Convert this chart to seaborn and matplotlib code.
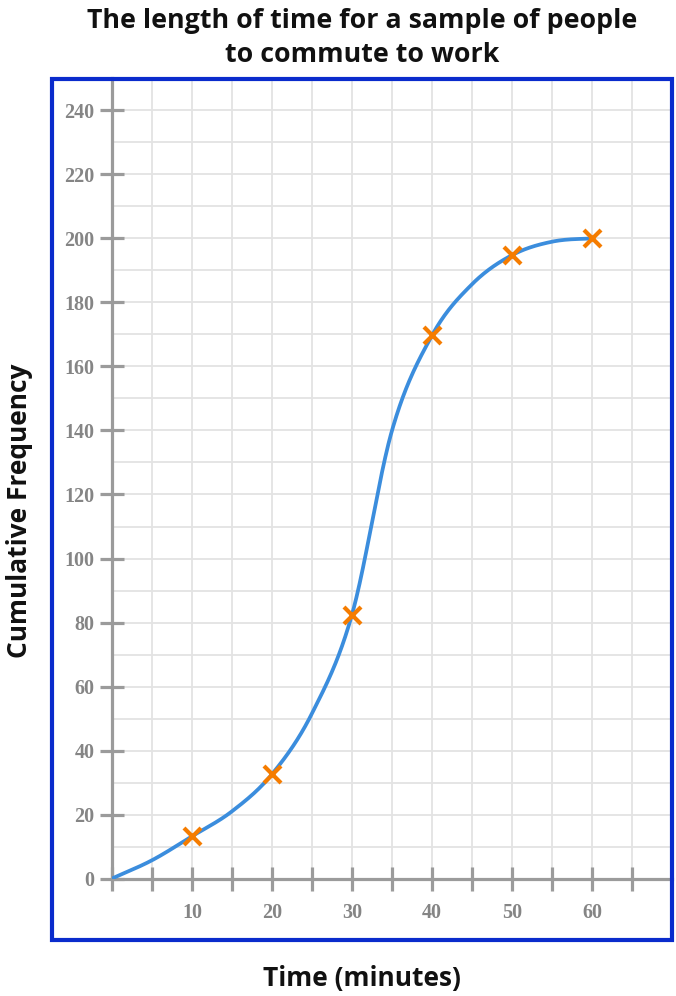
import numpy as np
import pandas as pd
import matplotlib
matplotlib.use("Agg")
import matplotlib.pyplot as plt
import matplotlib.patches as mpatches
from matplotlib.ticker import MultipleLocator, FixedLocator, FixedFormatter
import seaborn as sns

# ---- data ----
# plotted (marked) points
marked_time = [10, 20, 30, 40, 50, 60]
marked_freq = [13.2, 32.6, 82.5, 169.7, 194.8, 200]
# curve
curve_time = [0, 5, 10, 15, 20, 25, 30, 35, 40, 45, 50, 55, 60]
curve_freq = [0, 5.7, 13.2, 21, 32.6, 51.6, 82.5, 140, 169.7,
              185.7, 194.8, 199, 200]
x_tick_labels = ["10", "20", "30", "40", "50", "60"]
y_tick_values = [0, 20, 40, 60, 80, 100, 120, 140, 160, 180, 200, 220, 240]

title = "The length of time for a sample of people\nto commute to work"
xlabel = "Time (minutes)"
ylabel = "Cumulative Frequency"


def catmull_rom(xs, ys, n=600):
    """Cubic Hermite (Catmull-Rom tangents) rendering of the smooth curve."""
    xs = np.asarray(xs, float)
    ys = np.asarray(ys, float)
    k = len(xs)
    h = np.diff(xs)
    m = np.zeros(k)
    m[0] = (ys[1] - ys[0]) / h[0]
    m[-1] = 0.5 * (ys[-1] - ys[-2]) / h[-1]
    for i in range(1, k - 1):
        m[i] = (ys[i + 1] - ys[i - 1]) / (xs[i + 1] - xs[i - 1])
    xx = np.linspace(xs[0], xs[-1], n)
    idx = np.clip(np.searchsorted(xs, xx, side="right") - 1, 0, k - 2)
    t = (xx - xs[idx]) / h[idx]
    h00 = 2 * t**3 - 3 * t**2 + 1
    h10 = t**3 - 2 * t**2 + t
    h01 = -2 * t**3 + 3 * t**2
    h11 = t**3 - t**2
    yy = (h00 * ys[idx] + h10 * h[idx] * m[idx]
          + h01 * ys[idx + 1] + h11 * h[idx] * m[idx + 1])
    return xx, yy


sns.set_style("white")

W, H = 676, 996
fig = plt.figure(figsize=(W / 100, H / 100), dpi=100)

# axes placement in pixels
ax_left, ax_right, ax_top, ax_bottom = 112, 672, 78.5, 878.5
ax = fig.add_axes([ax_left / W, (H - ax_bottom) / H,
                   (ax_right - ax_left) / W, (ax_bottom - ax_top) / H])

xmax = (ax_right - ax_left) / 8.0
ymax = (ax_bottom - ax_top) / 3.2
ax.set_xlim(0, xmax)
ax.set_ylim(0, ymax)

grid_col = "#e3e3e3"
axis_col = "#9b9b9b"

# gridlines
ax.xaxis.set_minor_locator(MultipleLocator(5))
ax.yaxis.set_minor_locator(MultipleLocator(10))
ax.grid(which="both", color=grid_col, linewidth=1.3, zorder=0)
ax.set_axisbelow(True)

# curve
cx, cy = catmull_rom(curve_time, curve_freq)
curve_df = pd.DataFrame({"t": cx, "f": cy})
sns.lineplot(data=curve_df, x="t", y="f", ax=ax, color="#3b8ddd",
             linewidth=2.7, zorder=3, sort=False)

pts = pd.DataFrame({"t": marked_time, "f": marked_freq})
sns.scatterplot(data=pts, x="t", y="f", ax=ax, marker="x", s=150,
                linewidth=3.0, color="#f57c00", zorder=4)

# spines
for s in ["top", "right"]:
    ax.spines[s].set_visible(False)
for s in ["left", "bottom"]:
    ax.spines[s].set_color(axis_col)
    ax.spines[s].set_linewidth(2.3)
    ax.spines[s].set_zorder(2)

# ticks
xt = list(range(0, 70, 5))
xlabels = [str(v) if str(v) in x_tick_labels else "" for v in xt]
ax.xaxis.set_major_locator(FixedLocator(xt))
ax.xaxis.set_major_formatter(FixedFormatter(xlabels))
ax.yaxis.set_major_locator(FixedLocator(y_tick_values))
ax.yaxis.set_major_formatter(FixedFormatter([str(v) for v in y_tick_values]))
ax.tick_params(axis="both", which="major", direction="inout", length=17,
               width=2.3, color=axis_col, labelcolor="#858585",
               labelsize=14.5, bottom=True, left=True)
ax.tick_params(axis="y", which="major", pad=4)
ax.tick_params(axis="x", which="major", pad=9)
ax.tick_params(which="minor", length=0)
for lab in ax.get_xticklabels() + ax.get_yticklabels():
    lab.set_fontfamily(["Liberation Serif", "DejaVu Serif"])
    lab.set_fontweight("bold")

ax.set_xlabel("")
ax.set_ylabel("")

# labels and title (figure text)
fig.text(362 / W, 1 - 978 / H, xlabel, ha="center", va="center",
         fontsize=19, fontweight="bold", color="#111111",
         family=["Open Sans", "DejaVu Sans"])
fig.text(20 / W, 1 - 511 / H, ylabel, ha="center", va="center", rotation=90,
         fontsize=19, fontweight="bold", color="#111111",
         family=["Open Sans", "DejaVu Sans"])
fig.text(362 / W, 1 - 38 / H, title, ha="center", va="center",
         fontsize=19.3, fontweight="bold", linespacing=1.42, color="#111111",
         family=["Open Sans", "DejaVu Sans"])

# blue frame
fx0, fx1, fy0, fy1 = 52, 672, 79, 940
frame = mpatches.Rectangle((fx0 / W, 1 - fy1 / H), (fx1 - fx0) / W,
                           (fy1 - fy0) / H, transform=fig.transFigure,
                           fill=False, edgecolor="#0a2bcc", linewidth=3.0,
                           zorder=10, clip_on=False)
fig.patches.append(frame)

fig.savefig("out.png", dpi=100)
